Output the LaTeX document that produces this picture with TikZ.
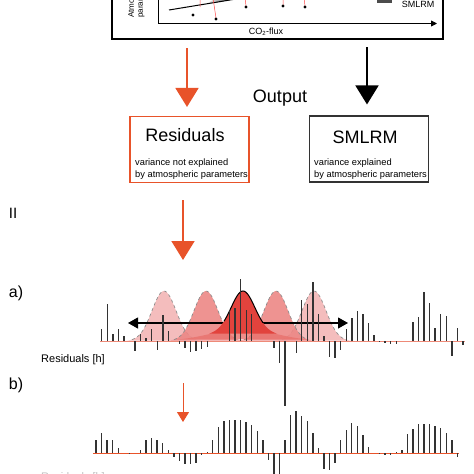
\documentclass[tikz,border=0pt]{standalone}
\usepackage{fontspec}
\setmainfont{Liberation Sans}
\usetikzlibrary{arrows.meta}

\definecolor{resorange}{HTML}{E8532A}
\definecolor{basesalmon}{HTML}{EE8A78}
\definecolor{bellpale}{HTML}{F3B6B6}
\definecolor{bellmid}{HTML}{EC8785}
\definecolor{bellred}{HTML}{E2433D}
\definecolor{barink}{HTML}{333333}

\tikzset{
  outbox/.style={draw, line width=1.1pt, minimum width=119pt, minimum height=66pt, inner sep=0pt},
  boxtitle/.style={font=\fontsize{18}{20}\selectfont},
  boxnote/.style={font=\fontsize{9.3}{12}\selectfont, align=left, anchor=north west, inner sep=0pt},
  bigarrow/.style={line width=1.8pt, -{Triangle[length=19pt,width=23pt]}},
  smallarrow/.style={line width=1pt, resorange, -{Triangle[length=10pt,width=12pt]}},
  shiftarrow/.style={line width=1.1pt, {Triangle[length=10pt,width=11pt]}-{Triangle[length=10pt,width=11pt]}},
  bar/.style={barink, line width=1.4pt},
  panellabel/.style={font=\fontsize{16}{18}\selectfont},
}

\begin{document}
\begin{tikzpicture}[x=1pt, y=-1pt]
\useasboundingbox (0,0) rectangle (474,474);
\clip (0,0) rectangle (474,474);

% model panel, cut off at the top
\draw[line width=1.2pt] (112,-5) |- (443,39) -- (443,-5);
\draw[line width=0.9pt, -{Triangle[length=6pt,width=6pt]}] (158,-5) |- (437,23.5);
\node[font=\fontsize{8}{9}\selectfont, rotate=90, anchor=north west, align=left, inner sep=0pt] (atmlabel) at (128,18) {Atmospheric\\parameters};
\node[font=\fontsize{9}{10}\selectfont] (fluxlabel) at (266,32) {CO\textsubscript{2}-flux};
\shade[left color=white, right color=black!75] (205,4.5) -- (236,-1) -- (236,-5) -- (222,-5) -- cycle;
\draw[line width=1pt] (169,10) -- (236,-1);
\draw[red!70, line width=0.5pt] (200,-2) -- (200,7) (216,18) -- (213,-2) (246,6) -- (245,-2) (283,5) -- (283,-2) (305,6) -- (304,-2);
\foreach \px/\py in {193/15, 216/19, 246/7, 283/6, 305/7}
  \fill (\px,\py) circle (1.6pt);
\fill[black!70] (377,-5) rectangle (392,3);
\node[font=\fontsize{9}{10}\selectfont, anchor=base] (legsml) at (418,7) {SMLRM};

% output boxes
\coordinate (outres) at (187,48);
\coordinate (outsml) at (367,47);
\node[outbox, draw=resorange] (res) at (189.5,149.5) {};
\node[outbox, draw=black!80] (sml) at (369,149) {};
\draw[bigarrow, resorange, shorten >=9pt] (outres) -- (outres |- res.north);
\draw[bigarrow, black, shorten >=11pt] (outsml) -- (outsml |- sml.north);
\node[boxtitle] (outlbl) at (280,98) {Output};
\node[boxtitle] (restitle) at (185,135) {Residuals};
\node[boxtitle] (smltitle) at (365,137) {SMLRM};
\node[boxnote] (resnote) at (135,158.5) {variance not explained\\by atmospheric parameters};
\node[boxnote] (smlnote) at (314,158.5) {variance explained\\by atmospheric parameters};

% labels
\node[font=\fontsize{15}{16}\selectfont] (partII) at (13,213) {II};
\node[panellabel] (lbla) at (16,293) {a)};
\node[panellabel] (lblb) at (16,385) {b)};
\node[font=\fontsize{11}{12}\selectfont] (ylbl) at (73,360) {Residuals [h]};
\node[font=\fontsize{11}{12}\selectfont, text=black!25] (ylblb) at (73,478) {Residuals [h]};

\coordinate (aTip) at (183,260);
\draw[bigarrow, resorange, shorten <=17pt] (res.south -| aTip) -- (aTip);

% a) moving window
\foreach \c/\col in {164/bellpale, 314/bellpale, 206/bellmid, 276/bellmid}{
  \fill[\col, opacity=0.9] plot[domain=\c-38:\c+38, samples=40, smooth] (\x,{341-50*exp(-((\x-\c)/12)^2/2)}) -- cycle;
  \draw[black!45, dashed, line width=0.7pt] plot[domain=\c-32:\c+32, samples=40, smooth] (\x,{341-50*exp(-((\x-\c)/12)^2/2)});
}
\coordinate (shiftL) at (128,323);
\coordinate (shiftR) at (348,323);
\draw[shiftarrow] (shiftL) -- (shiftR);
\fill[bellred!75, opacity=0.8] plot[domain=178:308, samples=60, smooth] (\x,{341-12*exp(-((\x-243)/32)^2/2)}) -- cycle;
\fill[bellred] plot[domain=209:277, samples=50, smooth] (\x,{341-38*exp(-((\x-243)/11.5)^2/2)-12*exp(-((\x-243)/32)^2/2)}) -- cycle;
\draw[line width=1pt] plot[domain=224:263, samples=40, smooth] (\x,{341-38*exp(-((\x-243)/11.5)^2/2)-12*exp(-((\x-243)/32)^2/2)});

\draw[basesalmon, line width=0.9pt] (100,341) -- (465,341);
\foreach \h [count=\i from 0] in {12,37,7,12,5,0,-10,7,3,12,-9,26,10,0,-3,-7,-11,-10,-8,-6,0,0,0,31,33,62,31,27,0,0,0,-7,-22,-65,0,-12,41,37,59,27,5,-16,-17,-9,12,23,30,27,18,6,-1,-2,-3,-3,0,0,19,24,49,38,13,27,25,-15,13,-4}
  \draw[bar] ({101.7+5.558*\i},341) -- ({101.7+5.558*\i},{341-\h});

% b) filtered
\coordinate (bTop) at (183,383);
\coordinate (bTip) at (183,422);
\draw[smallarrow] (bTop) -- (bTip);
\draw[resorange, line width=1pt] (93,453) -- (459,453);
\foreach \h [count=\i from 0] in {13,20,13,13,5,0,-1,0,3,13,15,13,10,3,-4,-8,-11,-11,-10,-2,1,13,26,32,33,33,33,31,28,22,13,-7,-25,-25,13,38,42,37,32,20,5,-16,-17,-10,13,23,30,27,18,6,0,-1,-2,-2,1,3,19,24,29,29,29,27,25,20,13,-4}
  \draw[bar] ({96+5.56*\i},453) -- ({96+5.56*\i},{453-\h});
\end{tikzpicture}
\end{document}
